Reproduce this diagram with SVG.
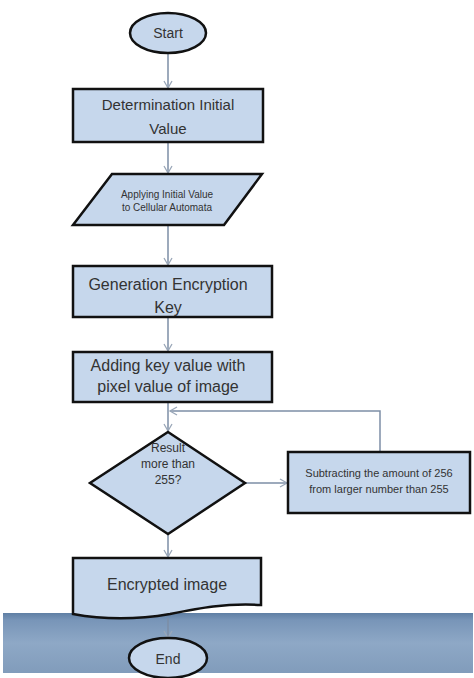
<svg xmlns="http://www.w3.org/2000/svg" width="474" height="678" viewBox="0 0 474 678">
<defs>
<style>
.n{fill:#c6d7ec;stroke:#111;stroke-width:2.5}
.t{font-family:"Liberation Sans",Arial,sans-serif;fill:#333;text-anchor:middle}
.c{fill:none;stroke:#7d8ea6;stroke-width:1.5}
</style>
<marker id="ah" markerWidth="10" markerHeight="10" refX="8" refY="5" orient="auto" markerUnits="userSpaceOnUse">
<polyline points="1,1 8,5 1,9" fill="none" stroke="#9aa7b8" stroke-width="1.3"/>
</marker>
<linearGradient id="band" x1="0" y1="0" x2="0" y2="1">
<stop offset="0" stop-color="#5f7fa4"/>
<stop offset="0.12" stop-color="#7895b8"/>
<stop offset="0.5" stop-color="#8ea8c6"/>
<stop offset="1" stop-color="#819cbb"/>
</linearGradient>
</defs>
<rect x="0" y="0" width="474" height="678" fill="#fff"/>
<rect x="3" y="613" width="470" height="60" fill="url(#band)"/>
<g id="connectors">
<line class="c" x1="168" y1="53" x2="168" y2="88" marker-end="url(#ah)"/>
<line class="c" x1="168" y1="142" x2="168" y2="173" marker-end="url(#ah)"/>
<line class="c" x1="168" y1="225" x2="168" y2="265" marker-end="url(#ah)"/>
<line class="c" x1="168" y1="317" x2="168" y2="351" marker-end="url(#ah)"/>
<line class="c" x1="168" y1="402" x2="168" y2="431" marker-end="url(#ah)"/>
<line class="c" x1="245" y1="483" x2="287" y2="483" marker-end="url(#ah)"/>
<polyline class="c" points="380,451 380,411 170,411" marker-end="url(#ah)"/>
<line class="c" x1="168" y1="534" x2="168" y2="557" marker-end="url(#ah)"/>
<line class="c" x1="168" y1="618" x2="168" y2="638" stroke="#a9b8cb" marker-end="url(#ah)"/>
</g>
<g id="start">
<ellipse class="n" cx="168" cy="33" rx="38" ry="20"/>
<text class="t" x="168" y="38" font-size="14">Start</text>
</g>
<g id="determination">
<rect class="n" x="73" y="89" width="190" height="53"/>
<text class="t" x="168" y="110" font-size="15">Determination  Initial</text>
<text class="t" x="168" y="134" font-size="15">Value</text>
</g>
<g id="applying">
<polygon class="n" points="112,174 262,174 224,225 73,225"/>
<text class="t" x="167" y="198" font-size="10">Applying Initial Value</text>
<text class="t" x="167" y="211" font-size="10">to Cellular Automata</text>
</g>
<g id="generation">
<rect class="n" x="73" y="266" width="199" height="51"/>
<text class="t" x="168" y="290" font-size="16">Generation Encryption</text>
<text class="t" x="168" y="313" font-size="16">Key</text>
</g>
<g id="adding">
<rect class="n" x="73" y="352" width="199" height="50"/>
<text class="t" x="168" y="371" font-size="16">Adding key value with</text>
<text class="t" x="168" y="392" font-size="16">pixel value of image</text>
</g>
<g id="decision">
<polygon class="n" points="168,432 245,483 168,534 90,483"/>
<text class="t" x="168" y="452" font-size="12">Result</text>
<text class="t" x="168" y="468" font-size="12">more than</text>
<text class="t" x="168" y="484" font-size="12">255?</text>
</g>
<g id="subtract">
<rect class="n" x="288" y="452" width="182" height="61"/>
<text class="t" x="379" y="477" font-size="11">Subtracting the amount of 256</text>
<text class="t" x="379" y="493" font-size="11">from larger number than 255</text>
</g>
<g id="encrypted">
<path class="n" d="M73,558 H261 V605 C225,603 200,608 170,614 C135,620 100,619 73,614 Z"/>
<text class="t" x="167" y="590" font-size="16">Encrypted image</text>
</g>
<g id="end">
<ellipse class="n" cx="168" cy="658" rx="39" ry="20"/>
<text class="t" x="168" y="664" font-size="14">End</text>
</g>
</svg>
